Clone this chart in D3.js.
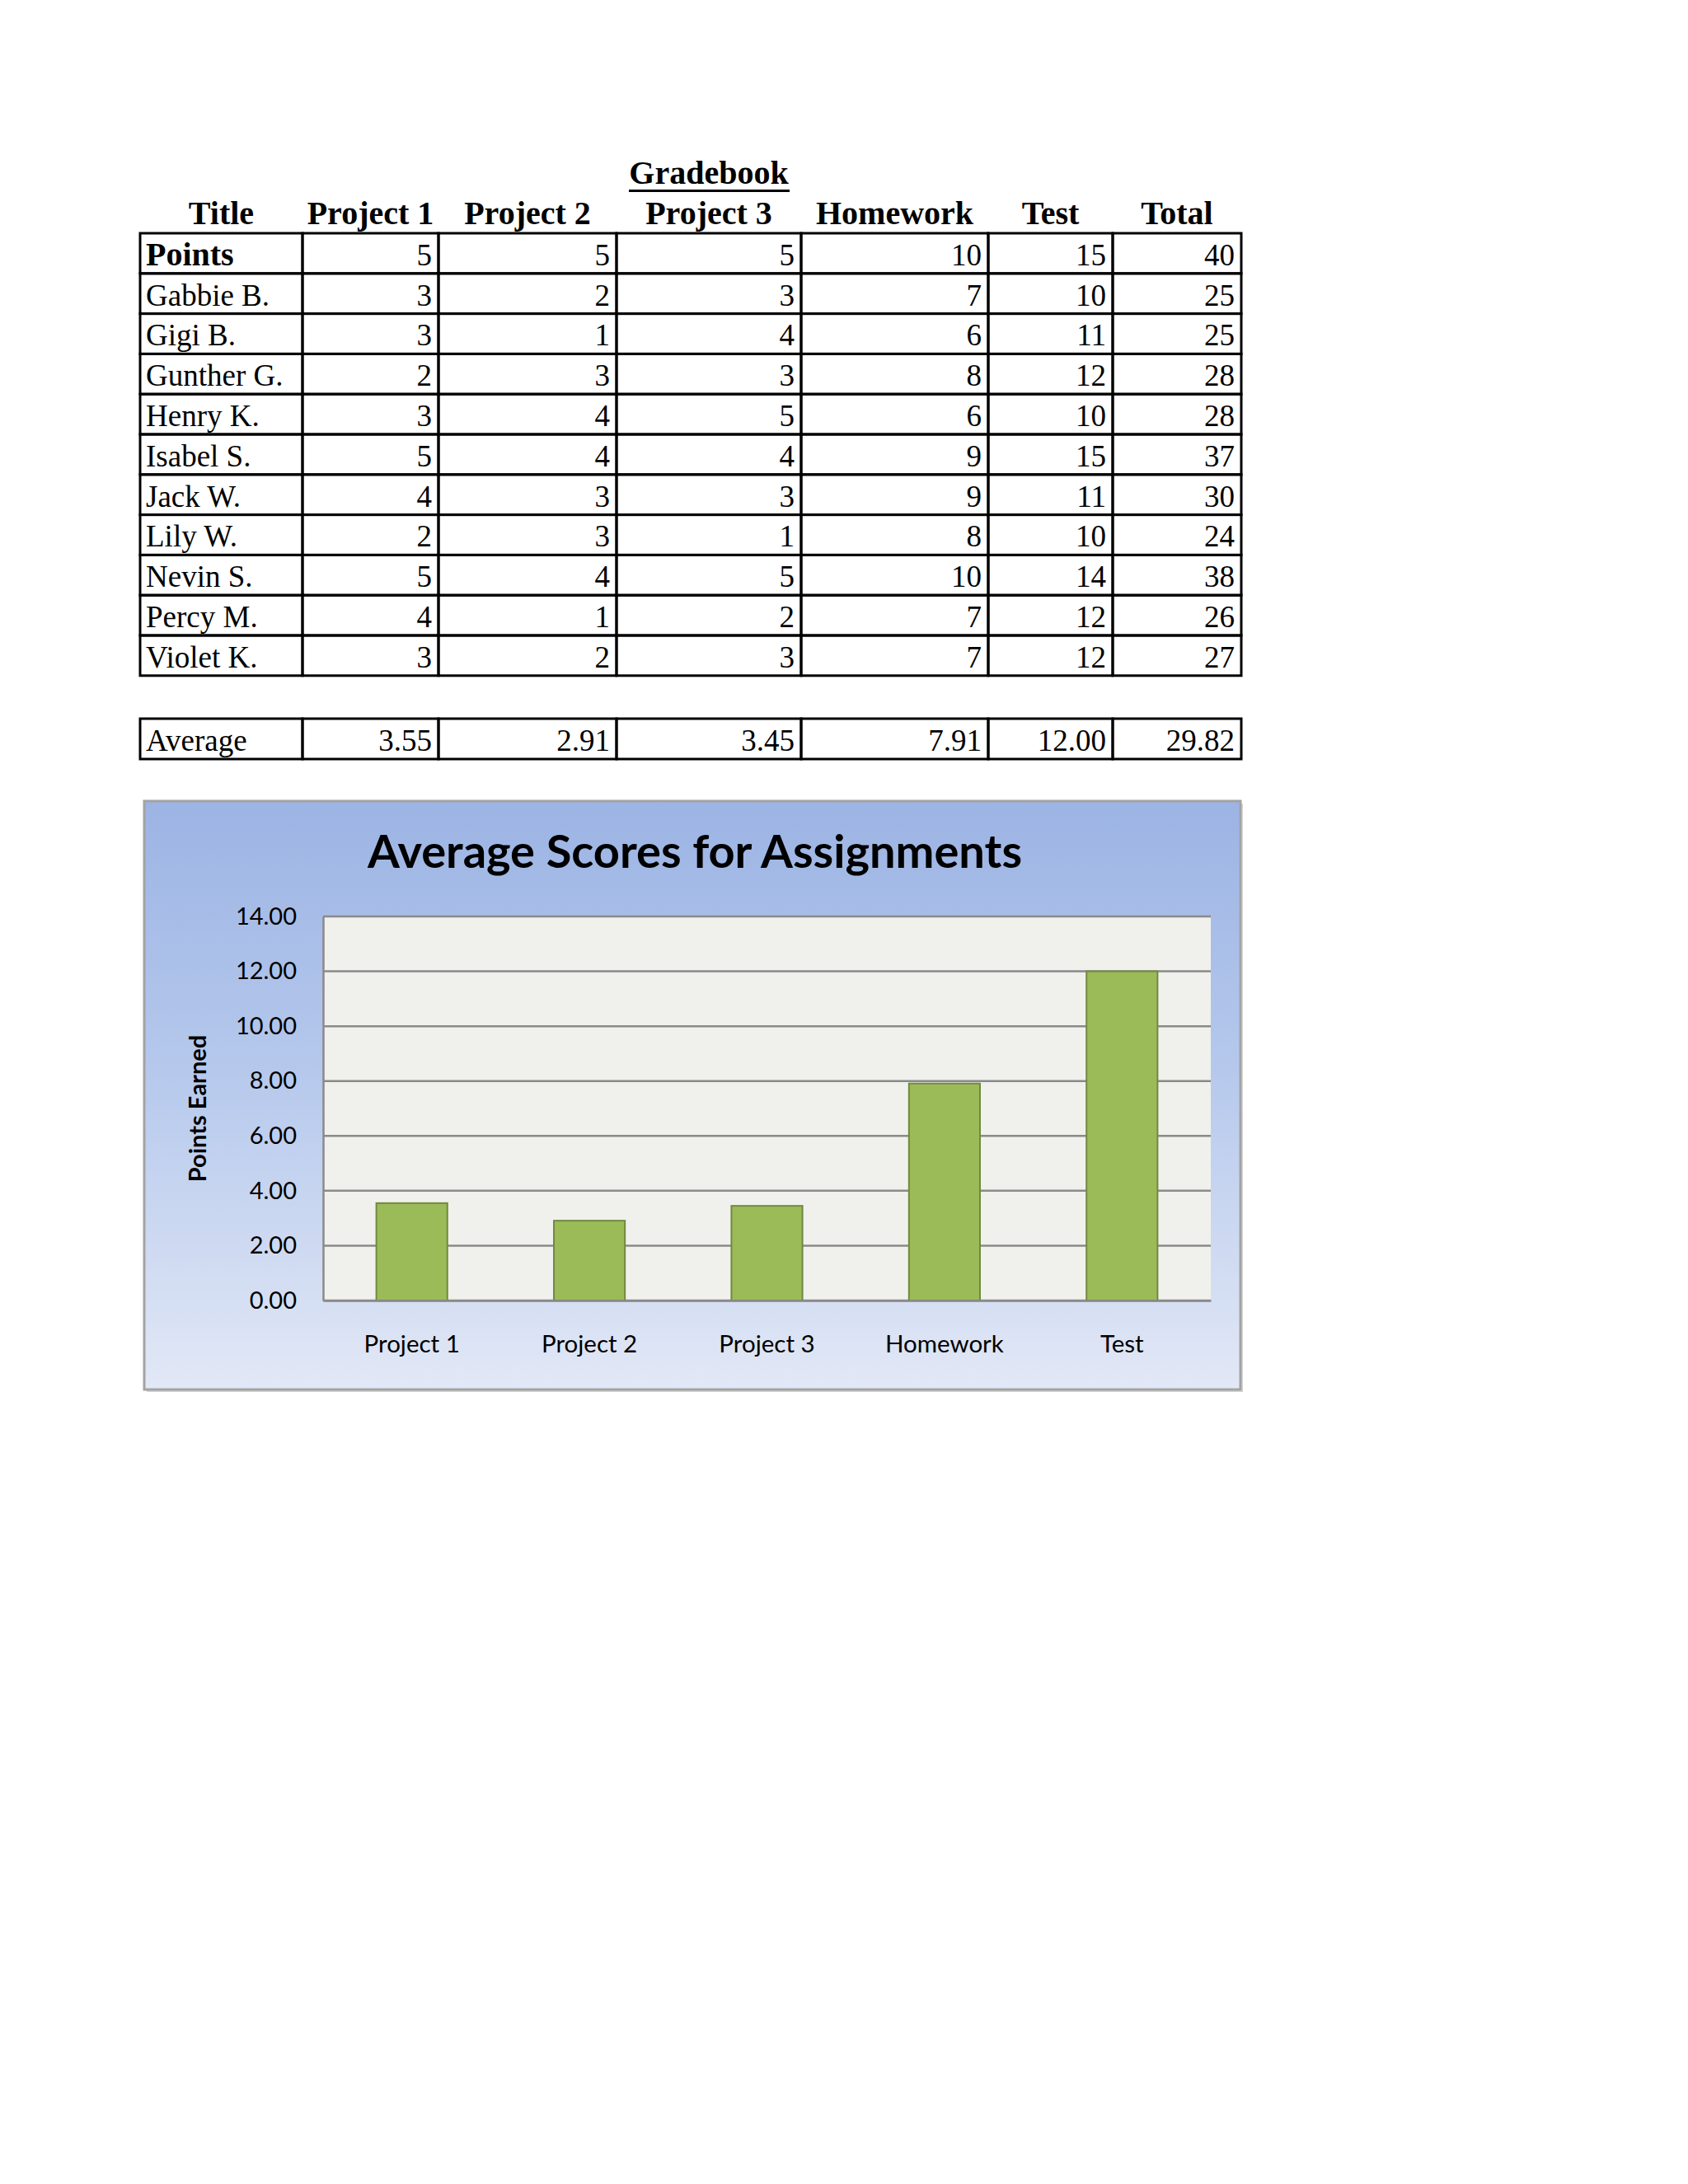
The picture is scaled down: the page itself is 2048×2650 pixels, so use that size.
<!DOCTYPE html>
<meta charset="utf-8">
<html>
<head>
    <script src="https://cdn.jsdelivr.net/npm/d3@7"></script>
    <style>
        body { margin: 0; background: #fff; }
    </style>
</head>
<body>
    <script>
    // gradebook data
    var columns = ["Title", "Project 1", "Project 2", "Project 3", "Homework", "Test", "Total"];
    var students = ["Points", "Gabbie B.", "Gigi B.", "Gunther G.", "Henry K.", "Isabel S.",
                    "Jack W.", "Lily W.", "Nevin S.", "Percy M.", "Violet K."];
    var scores = [
        [5, 5, 5, 10, 15, 40],
        [3, 2, 3, 7, 10, 25],
        [3, 1, 4, 6, 11, 25],
        [2, 3, 3, 8, 12, 28],
        [3, 4, 5, 6, 10, 28],
        [5, 4, 4, 9, 15, 37],
        [4, 3, 3, 9, 11, 30],
        [2, 3, 1, 8, 10, 24],
        [5, 4, 5, 10, 14, 38],
        [4, 1, 2, 7, 12, 26],
        [3, 2, 3, 7, 12, 27]
    ];
    var averageLabel = "Average";
    var averages = ["3.55", "2.91", "3.45", "7.91", "12.00", "29.82"];

    // chart data
    var assignments = ["Project 1", "Project 2", "Project 3", "Homework", "Test"];
    var avgScores = [3.55, 2.91, 3.45, 7.91, 12.00];
    var yTicks = [0, 2, 4, 6, 8, 10, 12, 14];

    var svg = d3.select("body")
       .append("svg")
       .attr("width", 2048)
       .attr("height", 2650);

    svg.append("rect").attr("width", 2048).attr("height", 2650).attr("fill", "#fff");

    // ---- table ----
    var colEdges = [170, 367, 532, 748, 972, 1199, 1350, 1506];
    var tableTop = 283, rowH = 48.8;
    var serif = "'Liberation Serif', 'Times New Roman', serif";

    var rowY = d3.scaleBand()
       .domain(d3.range(students.length))
       .range([tableTop, tableTop + rowH * students.length]);

    svg.append("text")
       .attr("x", (colEdges[3] + colEdges[4]) / 2)
       .attr("y", 223)
       .attr("text-anchor", "middle")
       .attr("font-family", serif)
       .attr("font-weight", "bold")
       .attr("font-size", 40)
       .text("Gradebook");

    svg.append("rect")
       .attr("x", 763).attr("y", 230).attr("width", 195).attr("height", 3)
       .attr("fill", "#000");

    svg.selectAll("text.head")
       .data(columns)
       .enter()
       .append("text")
       .attr("class", "head")
       .attr("x", function(d, i) { return (colEdges[i] + colEdges[i + 1]) / 2; })
       .attr("y", 272)
       .attr("text-anchor", "middle")
       .attr("font-family", serif)
       .attr("font-weight", "bold")
       .attr("font-size", 40)
       .text(function(d) { return d; });

    var tbl = svg.append("g");

    function drawRow(g, y, h, name, vals, bold) {
        for (var c = 0; c < 7; c++) {
            g.append("rect")
               .attr("x", colEdges[c]).attr("y", y)
               .attr("width", colEdges[c + 1] - colEdges[c]).attr("height", h)
               .attr("fill", "none").attr("stroke", "#000").attr("stroke-width", 3);
        }
        g.append("text")
           .attr("x", colEdges[0] + 7)
           .attr("y", y + h - 10)
           .attr("font-family", serif)
           .attr("font-weight", bold ? "bold" : "normal")
           .attr("font-size", bold ? 40 : 37)
           .text(name);
        vals.forEach(function(v, i) {
            g.append("text")
               .attr("x", colEdges[i + 2] - 8)
               .attr("y", y + h - 10)
               .attr("text-anchor", "end")
               .attr("font-family", serif)
               .attr("font-size", 37)
               .text(v);
        });
    }

    students.forEach(function(s, i) {
        drawRow(tbl, rowY(i), rowY.bandwidth(), s, scores[i], i === 0);
    });
    drawRow(tbl, 872, 49, averageLabel, averages, false);

    // ---- chart ----
    var box = { x: 175, y: 972, w: 1330, h: 714 };
    var sans = "Lato, 'Open Sans', sans-serif";

    var defs = svg.append("defs");
    var grad = defs.append("linearGradient")
       .attr("id", "bg").attr("x1", 0).attr("y1", 0).attr("x2", 0).attr("y2", 1);
    grad.append("stop").attr("offset", "0%").attr("stop-color", "#9cb4e4");
    grad.append("stop").attr("offset", "45%").attr("stop-color", "#b5c8ec");
    grad.append("stop").attr("offset", "100%").attr("stop-color", "#e2e8f6");

    svg.append("rect")
       .attr("x", box.x + 3).attr("y", box.y + 3)
       .attr("width", box.w).attr("height", box.h)
       .attr("fill", "#d4d4d4");
    svg.append("rect")
       .attr("x", box.x).attr("y", box.y)
       .attr("width", box.w).attr("height", box.h)
       .attr("fill", "url(#bg)")
       .attr("stroke", "#a3a3a3")
       .attr("stroke-width", 3);

    svg.append("text")
       .attr("x", 843)
       .attr("y", 1053)
       .attr("text-anchor", "middle")
       .attr("font-family", sans)
       .attr("font-weight", "bold")
       .attr("font-size", 56)
       .attr("fill", "#000")
       .text("Average Scores for Assignments");

    var plot = { left: 392, right: 1469, top: 1112, bottom: 1578 };

    var xScale = d3.scaleBand()
       .domain(assignments)
       .range([plot.left, plot.right])
       .paddingInner(0.6)
       .paddingOuter(0.3);

    var yScale = d3.scaleLinear()
       .domain([0, 14])
       .range([plot.bottom, plot.top]);

    svg.append("rect")
       .attr("x", plot.left).attr("y", plot.top)
       .attr("width", plot.right - plot.left).attr("height", plot.bottom - plot.top)
       .attr("fill", "#f0f1ec");

    svg.selectAll("line.grid")
       .data(yTicks)
       .enter()
       .append("line")
       .attr("class", "grid")
       .attr("x1", plot.left).attr("x2", plot.right)
       .attr("y1", function(d) { return yScale(d); })
       .attr("y2", function(d) { return yScale(d); })
       .attr("stroke", "#8a8a8a")
       .attr("stroke-width", 2.5);

    svg.selectAll("rect.bar")
       .data(avgScores)
       .enter()
       .append("rect")
       .attr("class", "bar")
       .attr("x", function(d, i) { return xScale(assignments[i]); })
       .attr("y", function(d) { return yScale(d); })
       .attr("width", xScale.bandwidth())
       .attr("height", function(d) { return plot.bottom - yScale(d); })
       .attr("fill", "#9bbb59")
       .attr("stroke", "#71893f")
       .attr("stroke-width", 2);

    // axes
    var yAxis = d3.axisLeft(yScale)
       .tickValues(yTicks)
       .tickFormat(d3.format(".2f"))
       .tickSize(0)
       .tickPadding(32);
    var yg = svg.append("g")
       .attr("transform", "translate(" + plot.left + ",0)")
       .call(yAxis);
    yg.select(".domain").attr("stroke", "#8a8a8a").attr("stroke-width", 2.5);
    yg.selectAll("text")
       .attr("font-family", sans)
       .attr("font-size", 29)
       .attr("fill", "#000");

    var xAxis = d3.axisBottom(xScale).tickSize(0).tickPadding(42);
    var xg = svg.append("g")
       .attr("transform", "translate(0," + plot.bottom + ")")
       .call(xAxis);
    xg.select(".domain").attr("stroke", "#8a8a8a").attr("stroke-width", 2.5);
    xg.selectAll("text")
       .attr("font-family", sans)
       .attr("font-size", 29.5)
       .attr("fill", "#000");

    svg.append("text")
       .attr("transform", "translate(250," + ((plot.top + plot.bottom) / 2) + ") rotate(-90)")
       .attr("text-anchor", "middle")
       .attr("font-family", sans)
       .attr("font-weight", "bold")
       .attr("font-size", 29)
       .attr("fill", "#000")
       .text("Points Earned");
    </script>
</body>
</html>
